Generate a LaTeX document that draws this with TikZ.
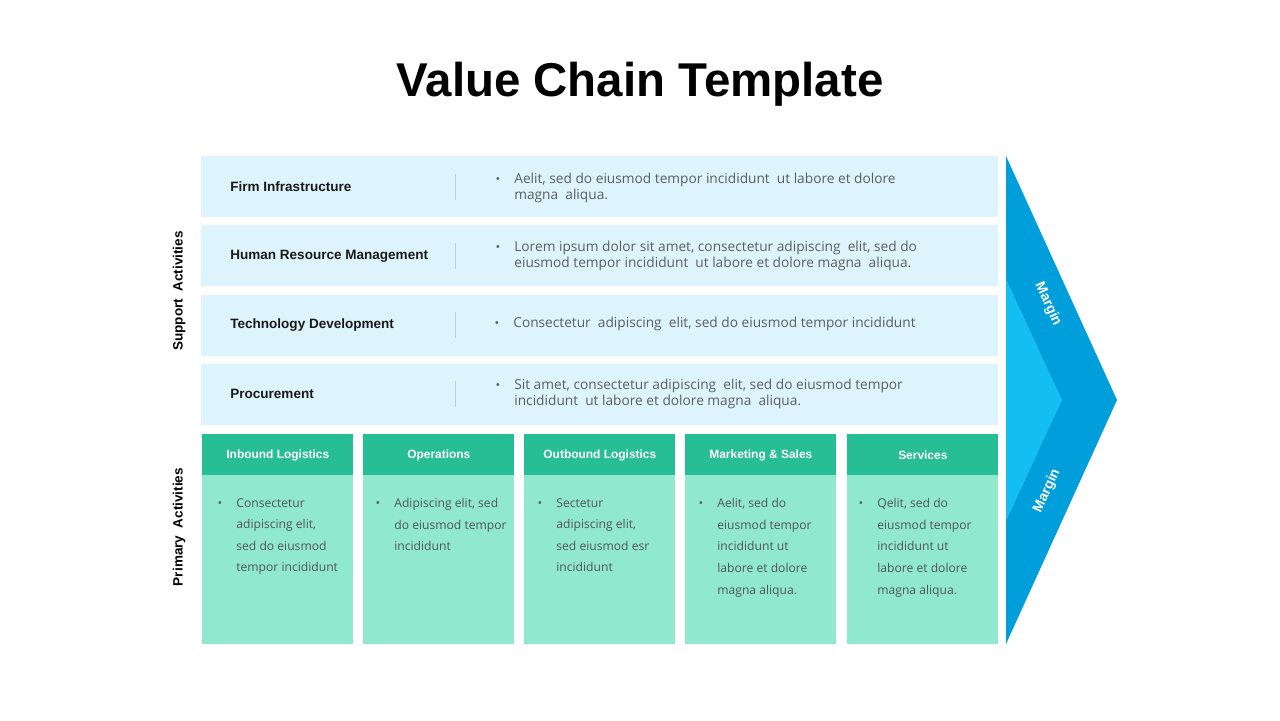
\documentclass[tikz,border=0pt]{standalone}
\usepackage{fontspec}
\setmainfont{Liberation Sans}
\newfontfamily\bodyfont{Open Sans}
\usetikzlibrary{positioning}
\definecolor{supfill}{HTML}{DDF4FD}
\definecolor{headfill}{HTML}{27BE95}
\definecolor{bodyfill}{HTML}{90E8CF}
\definecolor{arrowdark}{HTML}{009FDB}
\definecolor{arrowlight}{HTML}{14BEF2}
\definecolor{bodygray}{HTML}{5A5F63}
\definecolor{sepgray}{HTML}{C4CDD2}
\begin{document}
\begin{tikzpicture}[x=0.02cm, y=-0.02cm,
		supbox/.style={fill=supfill, minimum width=15.94cm, minimum height=1.22cm, anchor=north west, inner sep=0},
		suplabel/.style={anchor=west, inner sep=0, font=\fontsize{7.7}{9}\selectfont\bfseries, text=black!90},
		suptext/.style={anchor=west, inner sep=0, align=left, font=\bodyfont\fontsize{7.8}{9.1}\selectfont, text=bodygray},
		dot/.style={inner sep=0, font=\fontsize{6}{7}\selectfont, text=bodygray},
		headbox/.style={fill=headfill, minimum width=3.02cm, minimum height=0.84cm, anchor=north west, inner sep=0, text=white, font=\fontsize{6.8}{8}\selectfont\bfseries},
		bodybox/.style={fill=bodyfill, minimum width=3.02cm, minimum height=3.38cm, anchor=north west, inner sep=0},
		bodytext/.style={anchor=north west, inner sep=0, align=left, font=\bodyfont\fontsize{6.9}{12.3}\selectfont, text=bodygray!90!black},
		sidelabel/.style={rotate=90, inner sep=0, font=\fontsize{7.7}{9}\selectfont\bfseries},
		marginlabel/.style={inner sep=0, text=white, font=\fontsize{8}{9}\selectfont\bfseries}]
	\useasboundingbox (0,0) rectangle (1280,720);
	
	% Titel
	\node[font=\fontsize{27}{31}\selectfont\bfseries] (title) at (640,84) {Value Chain Template};
	
	% Support activities
	\node[supbox] (sup1) at (201,156) {};
	\node[supbox] (sup2) at (201,225) {};
	\node[supbox] (sup3) at (201,295) {};
	\node[supbox] (sup4) at (201,364) {};
	
	\node[suplabel] (lab1) at (230,187) {Firm Infrastructure};
	\node[suplabel] (lab2) at (230,256) {Human Resource Management};
	\node[suplabel] (lab3) at (230,325) {Technology Development};
	\node[suplabel] (lab4) at (230,394) {Procurement};
	
	% Trennlinien
	\draw[sepgray, line width=0.4pt] (455,174) -- (455,200);
	\draw[sepgray, line width=0.4pt] (455,243) -- (455,269);
	\draw[sepgray, line width=0.4pt] (455,312) -- (455,338);
	\draw[sepgray, line width=0.4pt] (455,381) -- (455,407);
	
	\node[dot] (d1) at (498,180) {•};
	\node[suptext] (txt1) at (514,188) {Aelit, sed do eiusmod tempor incididunt\ \ ut labore et dolore\\magna\ \ aliqua.};
	\node[dot] (d2) at (498,248) {•};
	\node[suptext] (txt2) at (514,256) {Lorem ipsum dolor sit amet, consectetur adipiscing\ \ elit, sed do\\eiusmod tempor incididunt\ \ ut labore et dolore magna\ \ aliqua.};
	\node[dot] (d3) at (497,324) {•};
	\node[suptext] (txt3) at (513,324) {Consectetur\ \ adipiscing\ \ elit, sed do eiusmod tempor incididunt};
	\node[dot] (d4) at (498,386) {•};
	\node[suptext] (txt4) at (514,394) {Sit amet, consectetur adipiscing\ \ elit, sed do eiusmod tempor\\incididunt\ \ ut labore et dolore magna\ \ aliqua.};
	
	% Primary activities
	\node[headbox] (head1) at (202,434) {Inbound Logistics};
	\node[headbox] (head2) at (363,434) {Operations};
	\node[headbox] (head3) at (524,434) {Outbound Logistics};
	\node[headbox] (head4) at (685,434) {Marketing \& Sales};
	\node[headbox] (head5) at (847,434) {Services};
	
	\node[bodybox] (body1) at (202,475) {};
	\node[bodybox] (body2) at (363,475) {};
	\node[bodybox] (body3) at (524,475) {};
	\node[bodybox] (body4) at (685,475) {};
	\node[bodybox] (body5) at (847,475) {};
	
	\node[dot] (p1) at (220,504) {•};
	\node[bodytext] (ptxt1) at (236,498) {Consectetur\\adipiscing elit,\\sed do eiusmod\\tempor incididunt};
	\node[dot] (p2) at (378,504) {•};
	\node[bodytext] (ptxt2) at (394,498) {Adipiscing elit, sed\\do eiusmod tempor\\incididunt};
	\node[dot] (p3) at (540,504) {•};
	\node[bodytext] (ptxt3) at (556,498) {Sectetur\\adipiscing elit,\\sed eiusmod esr\\incididunt};
	\node[dot] (p4) at (701,504) {•};
	\node[bodytext] (ptxt4) at (717,498) {Aelit, sed do\\eiusmod tempor\\incididunt ut\\labore et dolore\\magna aliqua.};
	\node[dot] (p5) at (861,504) {•};
	\node[bodytext] (ptxt5) at (877,498) {Qelit, sed do\\eiusmod tempor\\incididunt ut\\labore et dolore\\magna aliqua.};
	
	% Seitenbeschriftung
	\node[sidelabel] (side1) at (179,291) {Support\ \ Activities};
	\node[sidelabel] (side2) at (179,527) {Primary\ \ Activities};
	
	% Margin-Pfeil
	\coordinate (Mtop) at (1006,156);
	\coordinate (Mtip) at (1117,400);
	\coordinate (Mbot) at (1006,644);
	\fill[arrowdark] (Mtop) -- (Mtip) -- (Mbot) -- cycle;
	\fill[arrowlight] (1006,279) -- (1062,400) -- (1006,521) -- cycle;
	\node[marginlabel, rotate=-65.5] (marg1) at (1048,304) {Margin};
	\node[marginlabel, rotate=65.5] (marg2) at (1047,491) {Margin};
\end{tikzpicture}
\end{document}
